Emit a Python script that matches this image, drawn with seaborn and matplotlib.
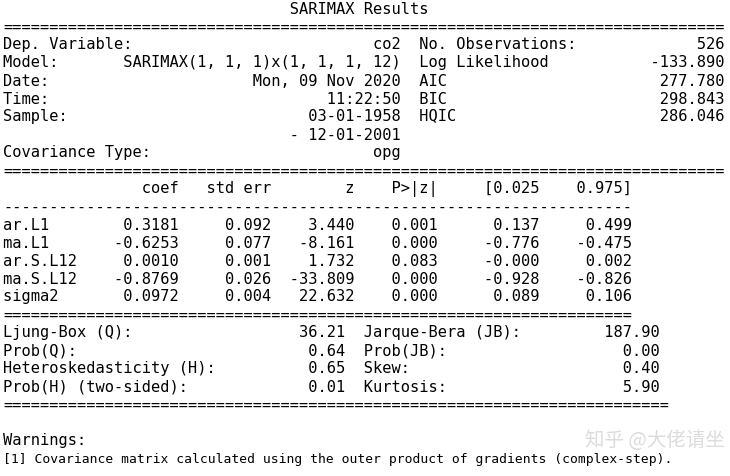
import matplotlib.pyplot as plt
import seaborn as sns

sns.set_theme(style="white")
plt.rcParams['font.family'] = ['DejaVu Sans Mono']

# header block
left_labels = ["Dep. Variable:", "Model:", "Date:", "Time:", "Sample:", "", "Covariance Type:"]
left_values = ["co2", "SARIMAX(1, 1, 1)x(1, 1, 1, 12)", "Mon, 09 Nov 2020", "11:22:50",
               "03-01-1958", "- 12-01-2001", "opg"]
right_labels = ["No. Observations:", "Log Likelihood", "AIC", "BIC", "HQIC", "", ""]
right_values = ["526", "-133.890", "277.780", "298.843", "286.046", "", ""]

# parameter table
param_names = ["ar.L1", "ma.L1", "ar.S.L12", "ma.S.L12", "sigma2"]
coef = [0.3181, -0.6253, 0.0010, -0.8769, 0.0972]
std_err = [0.092, 0.077, 0.001, 0.026, 0.004]
z_vals = [3.440, -8.161, 1.732, -33.809, 22.632]
p_vals = [0.001, 0.000, 0.083, 0.000, 0.000]
ci_low = [0.137, -0.776, -0.000, -0.928, 0.089]
ci_high = [0.499, -0.475, 0.002, -0.826, 0.106]

# diagnostics
diag_left = ["Ljung-Box (Q):", "Prob(Q):", "Heteroskedasticity (H):", "Prob(H) (two-sided):"]
diag_left_vals = ["36.21", "0.64", "0.65", "0.01"]
diag_right = ["Jarque-Bera (JB):", "Prob(JB):", "Skew:", "Kurtosis:"]
diag_right_vals = ["187.90", "0.00", "0.40", "5.90"]

warnings = ["Warnings:",
            "[1] Covariance matrix calculated using the outer product of gradients (complex-step)."]

lines = []
lines.append("SARIMAX Results".center(78))
lines.append("=" * 78)
for a, b, c, d in zip(left_labels, left_values, right_labels, right_values):
    left = f"{a}{b:>{43 - len(a)}}"
    right = f"{c}{d:>{33 - len(c)}}" if c else ""
    lines.append(f"{left}  {right}".rstrip())
lines.append("=" * 78)
lines.append(f"{'':<10}{'coef':>9}{'std err':>10}{'z':>9}{'P>|z|':>9}{'[0.025':>11}{'0.975]':>10}")
lines.append("-" * 68)
for row in zip(param_names, coef, std_err, z_vals, p_vals, ci_low, ci_high):
    n, c, s, z, p, lo, hi = row
    lines.append(f"{n:<10}{c:>9.4f}{s:>10.3f}{z:>9.3f}{p:>9.3f}{lo:>11.3f}{hi:>10.3f}")
lines.append("=" * 68)
for a, b, c, d in zip(diag_left, diag_left_vals, diag_right, diag_right_vals):
    lines.append(f"{a:<27}{b:>10}  {c:<20}{d:>12}")
lines.append("=" * 72)

fig = plt.figure(figsize=(7.3, 4.76), dpi=100)
ax = fig.add_axes([0, 0, 1, 1])
ax.set_xlim(0, 730)
ax.set_ylim(476, 0)
ax.axis("off")

y = 9
for ln in lines:
    ax.text(3, y, ln, fontsize=11.1, va="center", ha="left", color="black")
    y += 18
ax.text(3, 441, warnings[0], fontsize=11.1, va="center", ha="left", color="black")
ax.text(3, 460, warnings[1], fontsize=9.4, va="center", ha="left", color="black")

ax.text(585, 441, "知乎 @大佬请坐", fontsize=14, va="center", ha="left",
        color="#d8d8d8", alpha=0.9, family=['Noto Sans CJK SC', 'DejaVu Sans'])

fig.savefig("out.png", dpi=100, facecolor="white")
